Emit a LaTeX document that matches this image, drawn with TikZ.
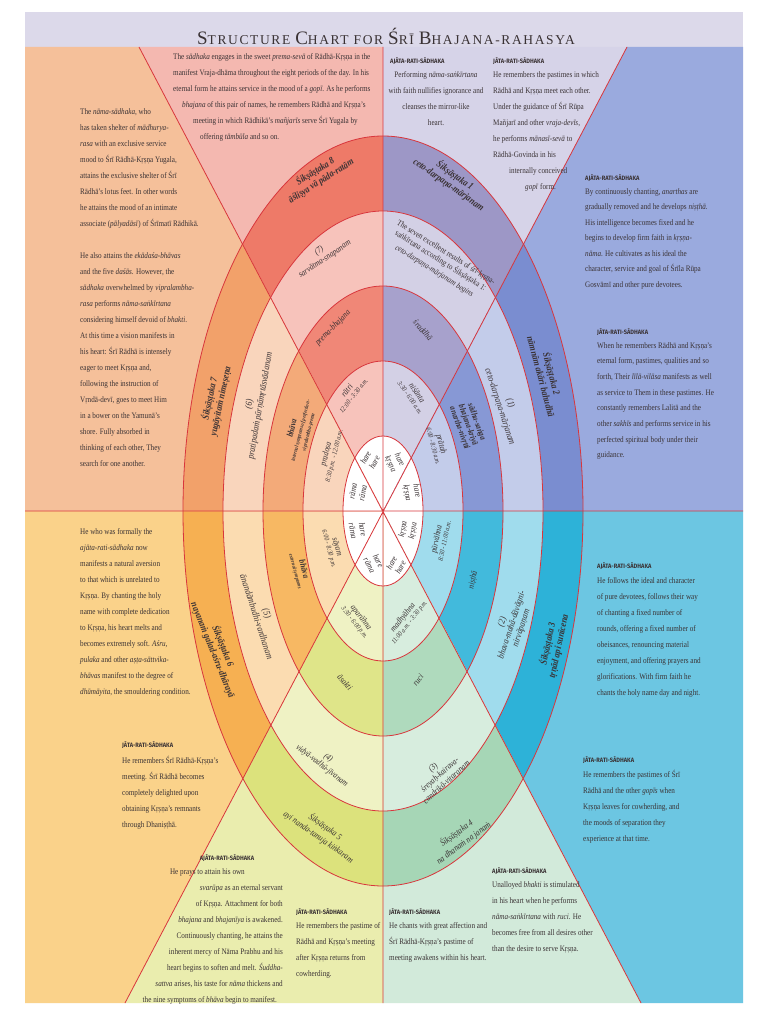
\documentclass[tikz,border=0pt]{standalone}
\usepackage{fontspec}
\setmainfont{Liberation Serif}[FakeStretch=0.85]
\newfontfamily\ttlfont{Liberation Serif}
\newfontfamily\hdfont{Fira Sans}[FakeStretch=0.9]
\begin{document}
\begin{tikzpicture}[x=1pt,y=-1pt,
 body/.style={font=\fontsize{8.4}{16}\selectfont, inner sep=0pt, text=txt, align=left, anchor=north west},
 hd/.style={font=\hdfont\fontsize{6.3}{8}\selectfont\bfseries, inner sep=0pt, text=txt, anchor=west},
 rl/.style={font=\fontsize{8.8}{10}\selectfont\itshape, inner sep=0pt, text=txt, align=center},
 sk/.style={font=\fontsize{9.8}{11}\selectfont\itshape\bfseries, inner sep=0pt, text=txt, align=center},
 rline/.style={draw=redl, line width=0.8pt}]
\definecolor{txt}{HTML}{3A3234}
\definecolor{redl}{HTML}{D8363C}
\definecolor{titbg}{HTML}{DCD9EA}
\definecolor{cA}{HTML}{EE7A68}\definecolor{oA}{HTML}{F4B8B0}
\definecolor{cB}{HTML}{9D97C6}\definecolor{oB}{HTML}{D6D3E8}
\definecolor{cC}{HTML}{7A8DD0}\definecolor{oC}{HTML}{9AAADE}
\definecolor{cD}{HTML}{2DB2D8}\definecolor{oD}{HTML}{6CC6E2}
\definecolor{cE}{HTML}{A6D6B6}\definecolor{oE}{HTML}{D2EADA}
\definecolor{cF}{HTML}{DCE27C}\definecolor{oF}{HTML}{EAEDAE}
\definecolor{cG}{HTML}{F6B052}\definecolor{oG}{HTML}{FAD28A}
\definecolor{cH}{HTML}{F2A16A}\definecolor{oH}{HTML}{F5C09A}
\useasboundingbox (0,0) rectangle (768,1024);
\fill[white] (0,0) rectangle (768,1024);
\fill[titbg] (25,12) rectangle (743,47);
\coordinate (O) at (383,511);
\newcommand\sector[3]{%
 \begin{scope}\clip #1;
 \fill[#3] (0,0) rectangle (768,1024);
 \fill[#2] (O) ellipse [x radius=200pt, y radius=375pt];
 \fill[#2!45!white] (O) ellipse [x radius=160pt, y radius=300pt];
 \fill[#2!90!white] (O) ellipse [x radius=120pt, y radius=225pt];
 \fill[#2!45!white] (O) ellipse [x radius=80pt, y radius=150pt];
 \fill[white] (O) ellipse [x radius=40pt, y radius=75pt];
 \end{scope}}
\sector{(383,511)--(139,47)--(383,47)--cycle}{cA}{oA}
\sector{(383,511)--(383,47)--(627,47)--cycle}{cB}{oB}
\sector{(383,511)--(627,47)--(743,47)--(743,511)--cycle}{cC}{oC}
\sector{(383,511)--(743,511)--(743,1003)--(641,1003)--cycle}{cD}{oD}
\sector{(383,511)--(641,1003)--(383,1003)--cycle}{cE}{oE}
\sector{(383,511)--(383,1003)--(125,1003)--cycle}{cF}{oF}
\sector{(383,511)--(125,1003)--(25,1003)--(25,511)--cycle}{cG}{oG}
\sector{(383,511)--(25,511)--(25,47)--(139,47)--cycle}{cH}{oH}
\foreach \r/\s in {200/375,160/300,120/225,80/150,40/75}
 \draw[rline] (O) ellipse [x radius=\r pt, y radius=\s pt];
\coordinate (tl) at (139,47);\coordinate (tr) at (627,47);
\coordinate (bl) at (125,1003);\coordinate (br) at (641,1003);
\coordinate (tm) at (383,47);\coordinate (bm) at (383,1003);
\coordinate (lm) at (25,511);\coordinate (rm) at (743,511);
\draw[rline] (tl)--(br) (tr)--(bl) (tm)--(bm) (lm)--(rm);
% title
\node[font=\ttlfont\fontsize{13.5}{14}\selectfont, text=txt] (title) at (386,36)
 {\addfontfeature{LetterSpace=12}{\fontsize{19}{19}\selectfont S}TRUCTURE {\fontsize{19}{19}\selectfont C}HART FOR {\fontsize{19}{19}\selectfont Ś}RĪ {\fontsize{19}{19}\selectfont B}HAJANA-RAHASYA};
% ring labels
\node[sk,rotate=32] (s8) at (318,176) {Śikṣāṣṭaka 8\\āśliṣya vā pāda-ratām};
\node[rl,rotate=34] (r7) at (322,255) {(7)\\sarvātma-snapanam};
\node[rl,rotate=45] (pb) at (333,328) {prema-bhajana};
\node[rl,rotate=52,font=\fontsize{7}{8}\selectfont\itshape] (ra) at (350,393) {{\fontsize{8.8}{9}\selectfont rātri}\\12:00 - 3:30 a.m.};
\node[rl,rotate=62] (h1) at (370,460) {hare\\hare};
\node[sk,rotate=-35] (s1) at (452,180) {Śikṣāṣṭaka 1\\ceto-darpaṇa-mārjanam};
\node[rl,rotate=-32,font=\fontsize{8.4}{10}\selectfont] (sev) at (440,262) {The seven excellent results of śrī-kṛṣṇa-\\saṅkīrtana according to Śikṣāṣṭaka 1:\\[2pt]\itshape ceto-darpaṇa-mārjanam begins};
\node[rl,rotate=-48] (sr) at (423,330) {śraddhā};
\node[rl,rotate=-55,font=\fontsize{7}{8}\selectfont\itshape] (ni) at (414,395) {{\fontsize{8.8}{9}\selectfont niśānta}\\3:30 - 6:00 a.m.};
\node[rl,rotate=-65] (h2) at (395,462) {hare\\kṛṣṇa};
\node[sk,rotate=-75] (s2) at (547,375) {Śikṣāṣṭaka 2\\nāmnām akāri bahudhā};
\node[sk,rotate=-72,font=\fontsize{9.6}{11}\selectfont\itshape] (c1) at (505,405) {(1)\\ceto-darpaṇa-mārjanam};
\node[rl,rotate=-70,font=\fontsize{8.6}{9}\selectfont\bfseries\itshape] (sa) at (468,425) {sādhu-saṅga\\bhajana-kriyā\\anartha-nivṛtti};
\node[rl,rotate=-75,font=\fontsize{7}{8}\selectfont\itshape] (pr) at (438,445) {{\fontsize{8.8}{9}\selectfont prātaḥ}\\6:00 - 8:30 a.m.};
\node[rl,rotate=-80] (h3) at (412,492) {hare\\kṛṣṇa};
\node[sk,rotate=78] (s3) at (553,645) {Śikṣāṣṭaka 3\\tṛṇād api sunīcena};
\node[sk,rotate=72,font=\fontsize{9.4}{10}\selectfont\itshape] (c2) at (512,625) {(2)\\bhava-mahā-dāvāgni-\\nirvāpaṇam};
\node[rl,rotate=78] (ns) at (473,580) {niṣṭhā};
\node[rl,rotate=78,font=\fontsize{7}{8}\selectfont\itshape] (pv) at (440,540) {{\fontsize{8.8}{9}\selectfont pūrvāhna}\\8:30 - 11:00 a.m.};
\node[rl,rotate=80] (h4) at (408,530) {kṛṣṇa\\kṛṣṇa};
\node[rl,rotate=36,font=\fontsize{9}{12}\selectfont\itshape] (s4) at (460,838) {Śikṣāṣṭaka 4\\na dhanaṁ na janaṁ};
\node[rl,rotate=42] (c3) at (440,775) {(3)\\śreyaḥ-kairava-\\candrikā-vitaraṇam};
\node[rl,rotate=52] (ru) at (418,680) {ruci};
\node[rl,rotate=52,font=\fontsize{7}{8}\selectfont\itshape] (md) at (406,620) {{\fontsize{8.8}{9}\selectfont madhyāhna}\\11:00 a.m. - 3:30 p.m.};
\node[rl,rotate=62] (h5) at (396,565) {hare\\hare};
\node[rl,rotate=-35,font=\fontsize{9}{12}\selectfont\itshape] (s5) at (322,832) {Śikṣāṣṭaka 5\\ayi nanda-tanuja kiṅkaram};
\node[rl,rotate=-38] (c4) at (325,762) {(4)\\vidyā-vadhū-jīvanam};
\node[rl,rotate=-48] (as) at (345,682) {āsakti};
\node[rl,rotate=-52,font=\fontsize{7}{8}\selectfont\itshape] (ap) at (358,620) {{\fontsize{8.8}{9}\selectfont aparāhna}\\3:30 - 6:00 p.m.};
\node[rl,rotate=-62] (h6) at (374,563) {hare\\rāma};
\node[sk,rotate=-68] (s6) at (218,648) {Śikṣāṣṭaka 6\\nayanaṁ galad-aśru-dhārayā};
\node[sk,rotate=-72,font=\fontsize{9.6}{11}\selectfont\itshape] (c5) at (262,615) {(5)\\ānandāmbudhi-vardhanam};
\node[rl,rotate=-75,font=\fontsize{8.8}{8}\selectfont\bfseries\itshape] (bh2) at (300,570) {bhāva\\{\fontsize{5.5}{6}\selectfont external symptoms}};
\node[rl,rotate=-75,font=\fontsize{7}{8}\selectfont\itshape] (sy) at (333,548) {{\fontsize{8.8}{9}\selectfont sāyam}\\6:00 - 8:30 p.m.};
\node[rl,rotate=-80] (h7) at (358,530) {hare\\rāma};
\node[sk,rotate=78] (s7) at (215,400) {Śikṣāṣṭaka 7\\yugāyitaṁ nimeṣeṇa};
\node[sk,rotate=80,font=\fontsize{9.6}{11}\selectfont\itshape] (c6) at (255,405) {(6)\\pratipadaṁ pūrṇāmṛtāsvādanam};
\node[rl,rotate=76,font=\fontsize{8.8}{8}\selectfont\bfseries\itshape] (bh1) at (300,430) {bhāva\\{\fontsize{5.5}{6}\selectfont internal symptoms of perfection -}\\{\fontsize{5.5}{6}\selectfont vipralambha-prema}};
\node[rl,rotate=76,font=\fontsize{7}{8}\selectfont\itshape] (pd) at (330,455) {{\fontsize{8.8}{9}\selectfont pradoṣa}\\8:30 p.m. - 12:00 a.m.};
\node[rl,rotate=80] (h8) at (358,492) {rāma\\rāma};
% text blocks
\node[body] (t1) at (173,53) {The \emph{sādhaka} engages in the sweet \emph{prema-sevā} of Rādhā-Kṛṣṇa in the\\manifest Vraja-dhāma throughout the eight periods of the day. In his\\eternal form he attains service in the mood of a \emph{gopī}. As he performs\\\hspace*{9pt}\emph{bhajana} of this pair of names, he remembers Rādhā and Kṛṣṇa's\\\hspace*{20pt}meeting in which Rādhikā's \emph{mañjarīs} serve Śrī Yugala by\\\hspace*{27pt}offering \emph{tāmbūla} and so on.};
\node[hd] (h11) at (390,61) {AJĀTA-RATI-SĀDHAKA};
\node[body,anchor=north,align=center] (t2) at (436,71) {Performing \emph{nāma-saṅkīrtana}\\with faith nullifies ignorance and\\cleanses the mirror-like\\heart.};
\node[hd] (h12) at (493,61) {JĀTA-RATI-SĀDHAKA};
\node[body] (t3) at (493,71) {He remembers the pastimes in which\\Rādhā and Kṛṣṇa meet each other.\\Under the guidance of Śrī Rūpa\\Mañjarī and other \emph{vraja-devīs},\\he performs \emph{mānasī-sevā} to\\Rādhā-Govinda in his\\\hspace*{16pt}internally conceived\\\hspace*{32pt}\emph{gopī} form.};
\node[body] (t4) at (80,108) {The \emph{nāma-sādhaka}, who\\has taken shelter of \emph{mādhurya-}\\\emph{rasa} with an exclusive service\\mood to Śrī Rādhā-Kṛṣṇa Yugala,\\attains the exclusive shelter of Śrī\\Rādhā's lotus feet. In other words\\he attains the mood of an intimate\\associate (\emph{pālyadāsī}) of Śrīmatī Rādhikā.\\[16pt]He also attains the \emph{ekādaśa-bhāvas}\\and the five \emph{daśās}. However, the\\\emph{sādhaka} overwhelmed by \emph{vipralambha-}\\\emph{rasa} performs \emph{nāma-saṅkīrtana}\\considering himself devoid of \emph{bhakti}.\\At this time a vision manifests in\\his heart: Śrī Rādhā is intensely\\eager to meet Kṛṣṇa and,\\following the instruction of\\Vṛndā-devī, goes to meet Him\\in a bower on the Yamunā's\\shore. Fully absorbed in\\thinking of each other, They\\search for one another.};
\node[hd] (h21) at (585,178) {AJĀTA-RATI-SĀDHAKA};
\node[body,font=\fontsize{8.4}{15.5}\selectfont] (t5) at (585,188) {By continuously chanting, \emph{anarthas} are\\gradually removed and he develops \emph{niṣṭhā}.\\His intelligence becomes fixed and he\\begins to develop firm faith in \emph{kṛṣṇa-}\\\emph{nāma}. He cultivates as his ideal the\\character, service and goal of Śrīla Rūpa\\Gosvāmī and other pure devotees.};
\node[hd] (h22) at (597,332) {JĀTA-RATI-SĀDHAKA};
\node[body,font=\fontsize{8.4}{15.7}\selectfont] (t6) at (597,342) {When he remembers Rādhā and Kṛṣṇa's\\eternal form, pastimes, qualities and so\\forth, Their \emph{līlā-vilāsa} manifests as well\\as service to Them in these pastimes. He\\constantly remembers Lalitā and the\\other \emph{sakhīs} and performs service in his\\perfected spiritual body under their\\guidance.};
\node[body] (t7) at (80,528) {He who was formally the\\\emph{ajāta-rati-sādhaka} now\\manifests a natural aversion\\to that which is unrelated to\\Kṛṣṇa. By chanting the holy\\name with complete dedication\\to Kṛṣṇa, his heart melts and\\becomes extremely soft. \emph{Aśru,}\\\emph{pulaka} and other \emph{aṣṭa-sāttvika-}\\\emph{bhāvas} manifest to the degree of\\\emph{dhūmāyita}, the smouldering condition.};
\node[hd] (h31) at (122,745) {JĀTA-RATI-SĀDHAKA};
\node[body] (t8) at (122,756) {He remembers Śrī Rādhā-Kṛṣṇa's\\meeting. Śrī Rādhā becomes\\completely delighted upon\\obtaining Kṛṣṇa's remnants\\through Dhaniṣṭhā.};
\node[hd] (h41) at (597,566) {AJĀTA-RATI-SĀDHAKA};
\node[body] (t9) at (597,577) {He follows the ideal and character\\of pure devotees, follows their way\\of chanting a fixed number of\\rounds, offering a fixed number of\\obeisances, renouncing material\\enjoyment, and offering prayers and\\glorifications. With firm faith he\\chants the holy name day and night.};
\node[hd] (h42) at (583,760) {JĀTA-RATI-SĀDHAKA};
\node[body] (t10) at (583,770) {He remembers the pastimes of Śrī\\Rādhā and the other \emph{gopīs} when\\Kṛṣṇa leaves for cowherding, and\\the moods of separation they\\experience at that time.};
\node[hd,anchor=center] (h51) at (227,858) {AJĀTA-RATI-SĀDHAKA};
\node[body,anchor=north east,align=right] (t11) at (283,868) {He prays to attain his own\hspace*{38pt}\\\emph{svarūpa} as an eternal servant\hspace*{12pt}\\of Kṛṣṇa. Attachment for both\hspace*{22pt}\\\emph{bhajana} and \emph{bhajanīya} is awakened.\\Continuously chanting, he attains the\hspace*{3pt}\\inherent mercy of Nāma Prabhu and his\hspace*{3pt}\\heart begins to soften and melt. \emph{Śuddha-}\hspace*{5pt}\\\emph{sattva} arises, his taste for \emph{nāma} thickens and\hspace*{4pt}\\the nine symptoms of \emph{bhāva} begin to manifest.\hspace*{6pt}};
\node[hd] (h52) at (296,912) {JĀTA-RATI-SĀDHAKA};
\node[body] (t12) at (296,922) {He remembers the pastime of\\Rādhā and Kṛṣṇa's meeting\\after Kṛṣṇa returns from\\cowherding.};
\node[hd] (h61) at (389,912) {JĀTA-RATI-SĀDHAKA};
\node[body] (t13) at (389,922) {He chants with great affection and\\Śrī Rādhā-Kṛṣṇa's pastime of\\meeting awakens within his heart.};
\node[hd] (h62) at (492,871) {AJĀTA-RATI-SĀDHAKA};
\node[body] (t14) at (492,881) {Unalloyed \emph{bhakti} is stimulated\\in his heart when he performs\\\emph{nāma-saṅkīrtana} with \emph{ruci}. He\\becomes free from all desires other\\than the desire to serve Kṛṣṇa.};
\end{tikzpicture}
\end{document}
